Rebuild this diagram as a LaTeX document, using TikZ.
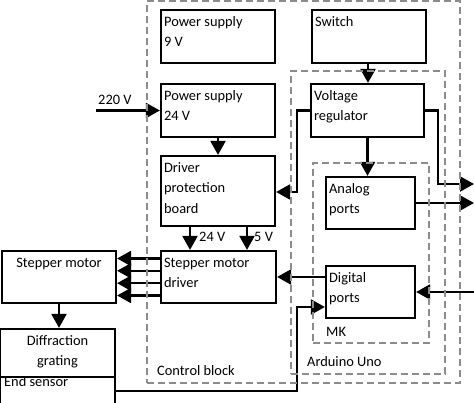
\documentclass[tikz,border=0pt]{standalone}
\usepackage{fontspec}
\setmainfont{Carlito}
\usetikzlibrary{arrows.meta,calc}
\pgfdeclarelayer{bg}
\pgfsetlayers{bg,main}
\newcommand\rectnode[6]{\node[#1, minimum width={(#5-#3)*1pt}, minimum height={(#6-#4)*1pt}] (#2) at ({(#3+#5)/2},{(#4+#6)/2}) {};}
\begin{document}
\begin{tikzpicture}[x=1pt,y=-1pt,
  box/.style={draw=black, line width=2.2pt, inner sep=0pt},
  grp/.style={draw=black!45, line width=1.3pt, dash pattern=on 7pt off 4pt, inner sep=0pt},
  txt/.style={inner sep=0pt, align=left, font=\fontsize{14.4}{20.5}\selectfont},
  lbl/.style={inner sep=0pt, anchor=base west, font=\fontsize{14.4}{20.5}\selectfont},
  arr/.style={line width=2.2pt, -{Triangle[length=14pt,width=15pt]}}]
\useasboundingbox (0,0) rectangle (474,403);
% group frames
\rectnode{grp}{cb}{147}{1}{460}{383}
\rectnode{grp}{au}{291}{71}{445}{374}
\rectnode{grp}{mk}{313}{163}{429}{343}
% boxes
\rectnode{box}{ps9}{161}{10}{275}{63}
\rectnode{box}{sw}{312}{10}{426}{63}
\rectnode{box}{ps24}{161}{84}{275}{137}
\rectnode{box}{vr}{311}{84}{424}{137}
\rectnode{box}{dpb}{161}{156}{275}{226}
\rectnode{box}{ana}{326}{177}{415}{229}
\rectnode{box}{smd}{161}{251}{276}{303}
\rectnode{box}{dig}{326}{266}{415}{318}
\rectnode{box}{sm}{2}{251}{116}{303}
\rectnode{box}{dg}{0}{329}{115}{377}
\node[txt, anchor=north west] (t-es) at (4,372) {\strut End sensor};
\rectnode{box}{es}{0}{377}{115}{405}
% box texts
\node[txt, anchor=north west] (t-ps9) at ($(ps9.north west)+(4,3)$) {\strut Power supply\\9 V};
\node[txt, anchor=north west] (t-sw) at ($(sw.north west)+(4,3)$) {\strut Switch};
\node[txt, anchor=north west] (t-ps24) at ($(ps24.north west)+(4,3)$) {\strut Power supply\\24 V};
\node[txt, anchor=north west] (t-vr) at ($(vr.north west)+(4,3)$) {\strut Voltage\\regulator};
\node[txt, anchor=north west] (t-dpb) at ($(dpb.north west)+(4,3)$) {\strut Driver\\protection\\board};
\node[txt, anchor=north west] (t-ana) at ($(ana.north west)+(4,3)$) {\strut Analog\\ports};
\node[txt, anchor=north west] (t-smd) at ($(smd.north west)+(4,3)$) {\strut Stepper motor\\driver};
\node[txt, anchor=north west] (t-dig) at ($(dig.north west)+(4,3)$) {\strut Digital\\ports};
\node[txt, anchor=north, align=center] (t-sm) at ($(sm.north)+(0,3)$) {\strut Stepper motor};
\node[txt, anchor=north, align=center] (t-dg) at ($(dg.north)+(0,3)$) {\strut Diffraction\\grating};
% labels
\node[lbl] (l-cb) at (157,375.5) {Control block};
\node[lbl] (l-au) at (307,366.5) {Arduino Uno};
\node[lbl] (l-mk) at (326,336.5) {MK};
\node[lbl] (l-220) at (98,104.5) {220 V};
\node[lbl] (l-24) at (199,241.5) {24 V};
\node[lbl] (l-5) at (254,241.5) {5 V};
% connectors
\begin{pgfonlayer}{bg}
\coordinate (in220) at (96,110.5);
\draw[arr] (in220) -- (ps24.west);
\draw[arr] (ps24.south) -- (dpb.north);
\coordinate (swb) at ($(sw.south)+(-1,0)$);
\draw[arr] (swb) -- (swb |- vr.north);
\coordinate (j1) at (297,192);
\draw[arr] (vr.west) -| (j1) -- (j1 -| dpb.east);
\draw[arr] (vr.south) -- (vr.south |- ana.north);
\coordinate (j2) at (438,184);
\coordinate (o1) at (474,184);
\draw[arr] (vr.east) -| (j2) -- (o1);
\coordinate (o2) at (474,203);
\draw[arr] (ana.east) -- (o2);
\coordinate (d24) at ($(dpb.south)+(-28,0)$);
\coordinate (d5) at ($(dpb.south)+(29,0)$);
\draw[arr] (d24) -- (d24 |- smd.north);
\draw[arr] (d5) -- (d5 |- smd.north);
\coordinate (dg1) at ($(dig.west)+(0,-15)$);
\draw[arr] (dg1) -- (dg1 -| smd.east);
\coordinate (j3) at (297,391);
\coordinate (j4) at (297,307);
\draw[arr] (es.east) -- (j3) -- (j4) -- (j4 -| dig.west);
\coordinate (i2) at (474,292);
\draw[arr] (i2) -- (dig.east);
\foreach \dy [count=\k] in {-18.5,-6.2,6.2,18.5}{
  \coordinate (m\k) at ($(smd.west)+(0,\dy)$);
  \draw[arr] (m\k) -- (m\k -| sm.east);
}
\draw[arr] (sm.south) -- (sm.south |- dg.north);
\end{pgfonlayer}
\end{tikzpicture}
\end{document}
